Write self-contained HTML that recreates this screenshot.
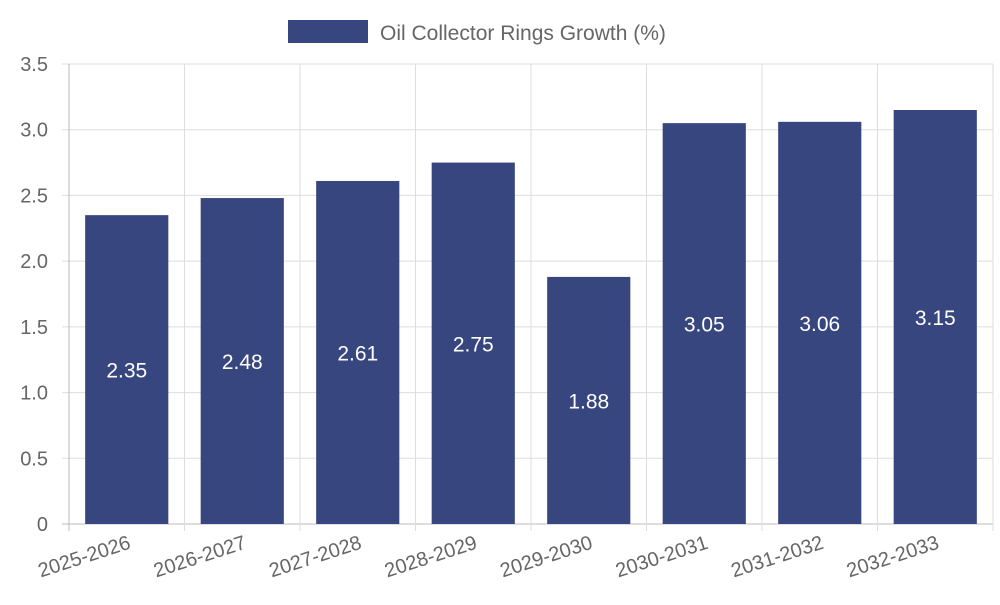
<!DOCTYPE html>
<html><head><meta charset="utf-8"><style>
body{margin:0;background:#fff;}
svg text{font-family:"Liberation Sans",sans-serif;}
</style></head><body>
<svg id="chart" width="1000" height="600" xmlns="http://www.w3.org/2000/svg">
<g id="legend">
<rect x="288" y="20" width="80" height="23" fill="#37467f"/>
<text x="380" y="40" font-size="21" fill="#666">Oil Collector Rings Growth (%)</text>
</g>
<g id="grid"></g><g id="bars"></g><g id="labels"></g>
</svg>
<script>
const categories=["2025-2026","2026-2027","2027-2028","2028-2029","2029-2030","2030-2031","2031-2032","2032-2033"];
const values=[2.35,2.48,2.61,2.75,1.88,3.05,3.06,3.15];
const yTicks=[0,0.5,1.0,1.5,2.0,2.5,3.0,3.5];
const yTickLabels=["0","0.5","1.0","1.5","2.0","2.5","3.0","3.5"];
const NS="http://www.w3.org/2000/svg";
const L=69,R=993,T=64,B=524,yMax=3.5;
const band=(R-L)/categories.length;
const y=v=>B-(v/yMax)*(B-T);
const x=i=>L+i*band;
function mk(tag,attrs,parent){const e=document.createElementNS(NS,tag);for(const k in attrs)e.setAttribute(k,attrs[k]);document.getElementById(parent).appendChild(e);return e;}
yTicks.forEach((t,i)=>{
 const l=mk('line',{x1:62,x2:R,y1:y(t),y2:y(t),stroke:t===0?'#bbb':'#ddd','stroke-width':1},'grid');
 
 
 const tx=mk('text',{x:48,y:y(t)+7,'text-anchor':'end','font-size':20,fill:'#666'},'grid');
 tx.textContent=yTickLabels[i];
 
 
});
for(let i=0;i<=categories.length;i++){
 const l=mk('line',{x1:x(i),x2:x(i),y1:T,y2:B+7,stroke:i===0?'#bbb':'#ddd','stroke-width':1},'grid');
 
 
}
categories.forEach((c,i)=>{
 const bw=band*0.72,cx=x(i)+band/2;
 const r=mk('rect',{x:cx-bw/2,y:y(values[i]),width:bw,height:B-y(values[i]),fill:'#37467f'},'bars');
 
 
 const v=mk('text',{x:cx,y:(y(values[i])+B)/2+8,'text-anchor':'middle','font-size':21,fill:'#fff'},'labels');
 v.textContent=values[i].toFixed(2);
 
 
 const lb=mk('text',{x:cx+5,y:548,'text-anchor':'end','font-size':20,fill:'#666',transform:`rotate(-18 ${cx+5} 548)`},'labels');
 lb.textContent=c;
 
 
});
</script>
</body></html>
